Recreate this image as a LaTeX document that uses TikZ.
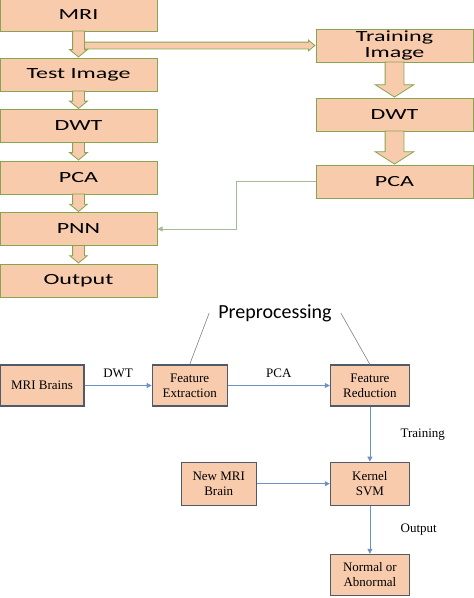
\documentclass[tikz,border=0pt]{standalone}
\usepackage{fontspec}
\setmainfont{Liberation Serif}
\newfontfamily\topfont{Carlito}
\usepackage{graphicx}
\usepackage{xcolor}
\usetikzlibrary{shapes.arrows, arrows.meta, positioning, calc}

\definecolor{boxfill}{RGB}{248,203,173}
\definecolor{topedge}{RGB}{135,165,80}
\definecolor{botedge}{RGB}{80,90,105}
\definecolor{linkblue}{RGB}{110,145,195}
\definecolor{linkgreen}{RGB}{165,185,150}

\newcommand{\wide}[1]{\scalebox{1.55}[1]{#1}}

\begin{document}
\begin{tikzpicture}[
    topbox/.style={rectangle, draw=topedge, fill=boxfill, line width=1pt, minimum width=157pt, minimum height=33pt, inner ysep=0pt, align=center, font=\topfont\fontsize{15.5}{16}\selectfont},
    botbox/.style={rectangle, draw=botedge, fill=boxfill, line width=1.2pt, minimum height=41pt, inner sep=1pt, align=center, font=\fontsize{13}{15}\selectfont},
    downarr/.style={single arrow, draw=topedge, fill=boxfill, line width=0.8pt, shape border rotate=270, anchor=tip, inner sep=5.5pt, single arrow head extend=3pt, single arrow tip angle=101},
    bigdown/.style={downarr, inner sep=9pt, single arrow head extend=10pt, single arrow tip angle=115},
    arrow/.style={-{Triangle[length=5pt, width=5pt]}, draw=linkblue, line width=0.8pt},
    thinarr/.style={-{Triangle[length=5pt, width=5pt]}, draw=linkgreen, line width=0.8pt},
    label/.style={font=\fontsize{13}{15}\selectfont},
]
\path[use as bounding box] (0,0) rectangle (474pt,-598pt);

% Left column: test path
\node[topbox] (mri) at (78.5pt,-14.5pt) {\wide{MRI}};
\node[topbox, below=26pt of mri] (test) {\wide{Test Image}};
\node[topbox, below=17.5pt of test] (dwtl) {\wide{DWT}};
\node[topbox, below=17.5pt of dwtl] (pcal) {\wide{PCA}};
\node[topbox, below=17.5pt of pcal] (pnn) {\wide{PNN}};
\node[topbox, below=17.5pt of pnn] (out) {\wide{Output}};

% Right column: training path
\node[topbox] (train) at (394.5pt,-45.5pt) {\wide{Training}\\\wide{Image}};
\node[topbox, below=35pt of train] (dwtr) {\wide{DWT}};
\node[topbox, below=33pt of dwtr] (pcar) {\wide{PCA}};

% block arrows
\node[single arrow, draw=topedge, fill=boxfill, line width=0.8pt, anchor=tip, inner sep=3pt, single arrow head extend=2pt, single arrow tip angle=80, minimum height=232pt] (branch) at (train.west) {};
\node[downarr, minimum height=26pt] (a1) at (test.north) {};
\foreach \a/\b in {test/dwtl, dwtl/pcal, pcal/pnn, pnn/out}
  \node[downarr, minimum height=17.5pt] (a-\b) at (\b.north) {};
\node[bigdown, minimum height=35pt] (b1) at (dwtr.north) {};
\node[bigdown, minimum height=33pt] (b2) at (pcar.north) {};

\draw[thinarr] (pcar.west) -- ++(-79pt,0) |- (pnn.east);

% Bottom: preprocessing flow
\node[font=\topfont\fontsize{20}{24}\selectfont, inner sep=9pt] (prep) at (275pt,-313pt) {Preprocessing};
\node[botbox, minimum width=84pt] (mrib) at (42pt,-385.5pt) {MRI Brains};
\node[botbox, minimum width=75pt, right=67pt of mrib] (fext) {Feature\\Extraction};
\node[botbox, minimum width=79pt, right=102pt of fext] (fred) {Feature\\Reduction};
\node[botbox, minimum width=79pt, minimum height=43pt, below=55pt of fred] (ksvm) {Kernel\\SVM};
\node[botbox, minimum width=75pt, minimum height=43pt, left=73pt of ksvm] (newmri) {New MRI\\Brain};
\node[botbox, minimum width=79pt, below=48pt of ksvm] (normal) {Normal or\\Abnormal};

\draw[gray, line width=0.6pt] (prep.west) -- (fext.north);
\draw[gray, line width=0.6pt] (prep.east) -- (fred.north);

\draw[arrow] (mrib) -- node[above=4pt, label] {DWT} (fext);
\draw[arrow] (fext) -- node[above=4pt, label] {PCA} (fred);
\draw[arrow] (fred) -- node[right=27pt, label] {Training} (ksvm);
\draw[arrow] (newmri) -- (ksvm);
\draw[arrow] (ksvm) -- node[right=27pt, label] {Output} (normal);

\end{tikzpicture}
\end{document}
